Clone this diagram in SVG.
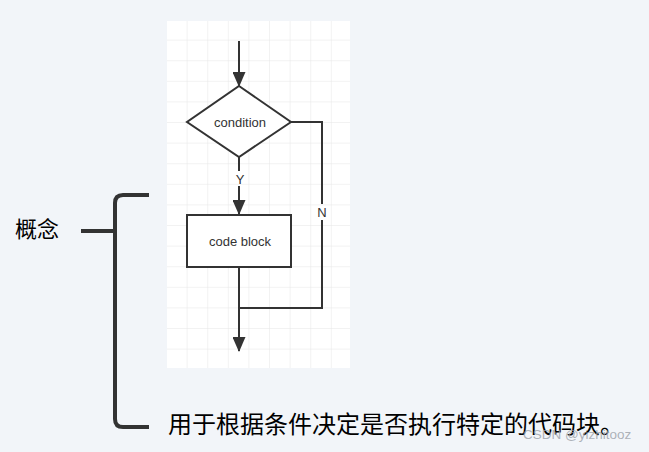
<svg xmlns="http://www.w3.org/2000/svg" width="649" height="452" viewBox="0 0 649 452">
<defs>
<style>
.ln{stroke:#333;stroke-width:2;fill:none}
.nd{stroke:#333;stroke-width:2;fill:#fff}
.lbl{font-family:"Liberation Sans",Arial,sans-serif;font-size:13px;fill:#333;text-anchor:middle;dominant-baseline:central}
.cjk{font-family:"Noto Sans CJK SC","Noto Sans",sans-serif;fill:#000}
.br{stroke:#333;stroke-width:4;fill:none}
</style>
<pattern id="grid" x="167" y="20" width="20.6" height="20.6" patternUnits="userSpaceOnUse">
<path d="M20.6 0V20.6H0" fill="none" stroke="#e6e6e6" stroke-width="1"/>
</pattern>
<marker id="arr" markerWidth="15" markerHeight="13" refX="14" refY="6.5" orient="auto" markerUnits="userSpaceOnUse" viewBox="0 0 15 13">
<path d="M0 0L15 6.5L0 13Z" fill="#333"/>
</marker>
</defs>
<rect width="649" height="452" fill="#f2f5f9"/>
<rect x="167" y="21" width="183" height="347" fill="#fff"/>
<rect x="167" y="21" width="183" height="347" fill="url(#grid)"/>
<g id="connectors">
<path class="ln" d="M239 41V86" marker-end="url(#arr)"/>
<path class="ln" d="M239 157V171"/>
<path class="ln" d="M239 186V214" marker-end="url(#arr)"/>
<path class="ln" d="M290 122H322V204"/>
<path class="ln" d="M322 220V308H239"/>
<path class="ln" d="M239 267V351" marker-end="url(#arr)"/>
<text class="lbl" x="240" y="179">Y</text>
<text class="lbl" x="322" y="212">N</text>
</g>
<g id="condition">
<polygon class="nd" points="239,86 291,122 239,157 187,122"/>
<text class="lbl" x="240" y="122">condition</text>
</g>
<g id="code-block">
<rect class="nd" x="187" y="215" width="104" height="52"/>
<text class="lbl" x="240" y="241">code block</text>
</g>
<g id="concept">
<text class="cjk" x="15" y="237" font-size="22">概念</text>
<path class="br" d="M81 231H115"/>
<path class="br" d="M149 195H123Q115 195 115 203V419Q115 427 123 427H149"/>
<text class="cjk" x="168" y="433" font-size="24">用于根据条件决定是否执行特定的代码块。</text>
</g>
<text x="523" y="439" font-family="Liberation Sans,Arial,sans-serif" font-size="13.5" fill="#9aa0a8" fill-opacity="0.8">CSDN @yizhitooz</text>
</svg>
